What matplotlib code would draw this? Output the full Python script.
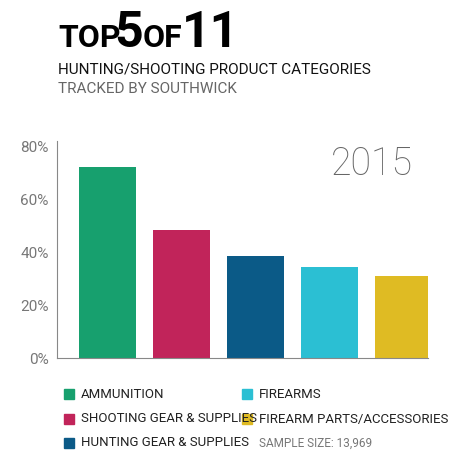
import matplotlib
matplotlib.use("Agg")
import matplotlib.pyplot as plt

categories = ["AMMUNITION", "SHOOTING GEAR & SUPPLIES", "HUNTING GEAR & SUPPLIES", "FIREARMS", "FIREARM PARTS/ACCESSORIES"]
values = [72, 48.3, 38.6, 34.4, 31]
colors = ["#17a06e", "#c1245a", "#0b5a87", "#2bbfd3", "#dfbb23"]
yticks = [0, 20, 40, 60, 80]

W, H = 450, 458
fig = plt.figure(figsize=(4.5, 4.58), dpi=100)
plt.rcParams['font.family'] = ['Roboto', 'DejaVu Sans']
cond = ['Liberation Sans Narrow', 'Roboto', 'DejaVu Sans']

ax = fig.add_axes([57/W, 1-358/H, 371/W, (358-141)/H])
ax.bar(range(len(values)), values, width=0.77, color=colors)
ax.set_xlim(-0.68, 4.33)
ax.set_ylim(0, 82)
ax.set_yticks(yticks)
ax.set_yticklabels([f"{v}%" for v in yticks], color="#777777", fontsize=11)
ax.set_xticks([])
for s in ["top", "right"]:
    ax.spines[s].set_visible(False)
for s in ["left", "bottom"]:
    ax.spines[s].set_color("#888888")
ax.tick_params(axis="y", length=0, pad=6)
ax.text(0.96, 0.98, "2015", transform=ax.transAxes, ha="right", va="top",
        fontsize=27, color="#666666", fontweight="light")

def t(x, y, s, **kw):
    fig.text(x/W, 1-y/H, s, **kw)

t(58, 47, "TOP", fontsize=23, fontweight="bold", va="baseline", family=cond)
t(114, 47, "5", fontsize=36, fontweight="bold", va="baseline", family=cond)
t(143, 47, "OF", fontsize=23, fontweight="bold", va="baseline", family=cond)
t(182, 47, "11", fontsize=36, fontweight="bold", va="baseline", family=cond)
t(58, 70, "HUNTING/SHOOTING PRODUCT CATEGORIES", fontsize=11, va="center", color="#111111", family=cond)
t(58, 89, "TRACKED BY SOUTHWICK", fontsize=11, va="center", color="#666666", family=cond)

pos = [(64, 394), (64, 419), (64, 443), (242, 394), (242, 419)]
for (x, y), c, lab in zip(pos, colors, categories):
    fig.patches.append(plt.Rectangle((x/W, 1-(y+5)/H), 10/W, 10/H, color=c, transform=fig.transFigure))
    t(x+17, y, lab, fontsize=9.5, va="center", color="#222222", family=cond)
t(259, 443, "SAMPLE SIZE: 13,969", fontsize=8.5, va="center", color="#777777", family=cond)

fig.savefig("out.png", dpi=100, facecolor="white")
